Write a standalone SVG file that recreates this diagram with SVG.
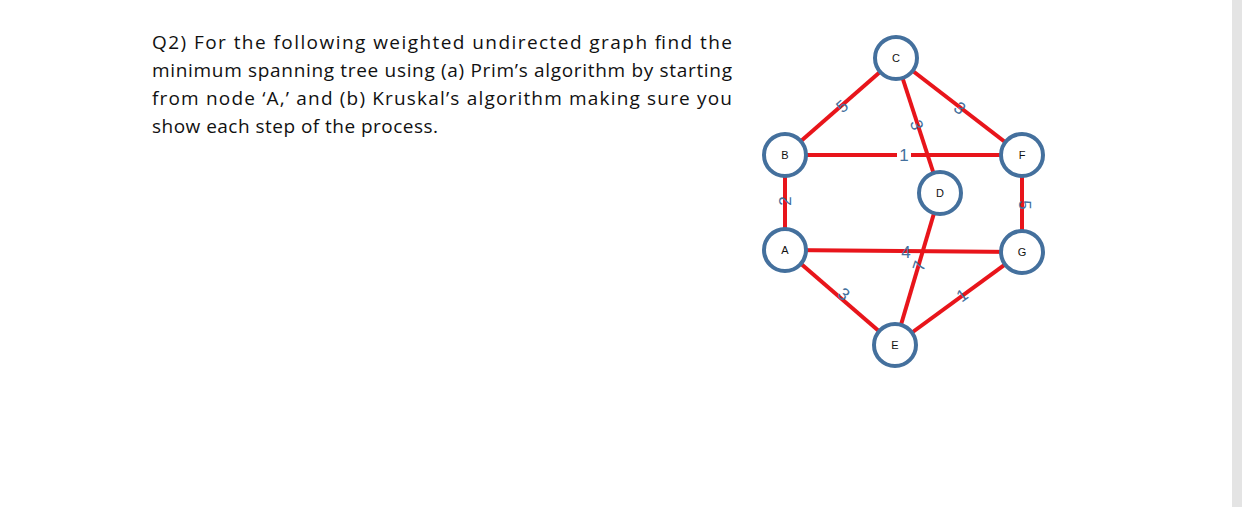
<svg xmlns="http://www.w3.org/2000/svg" width="1242" height="507" viewBox="0 0 1242 507">
<style>
.q{font-family:"Open Sans","Liberation Sans",sans-serif;font-size:19px;fill:#111}
.e line{stroke:#e8151b;stroke-width:4}
.n circle{fill:#fff;stroke:#44709d;stroke-width:4}
.n text{font-family:"Liberation Sans",sans-serif;font-size:11px;fill:#111;text-anchor:middle}
.w{font-family:"Liberation Sans",sans-serif;font-size:17px;fill:#44709d;text-anchor:middle}
</style>
<rect width="1242" height="507" fill="#fff"/>
<rect x="1232" y="0" width="10" height="507" fill="#e4e4e4"/>
<g id="question">
<text class="q" x="152" y="49" textLength="580" lengthAdjust="spacing">Q2) For the following weighted undirected graph find the</text>
<text class="q" x="152" y="77" textLength="580" lengthAdjust="spacing">minimum spanning tree using (a) Prim’s algorithm by starting</text>
<text class="q" x="152" y="105" textLength="580" lengthAdjust="spacing">from node ‘A,’ and (b) Kruskal’s algorithm making sure you</text>
<text class="q" x="152" y="133" textLength="286" lengthAdjust="spacing">show each step of the process.</text>
</g>
<g id="connectors" class="e">
<line x1="896" y1="58" x2="785" y2="155"/>
<line x1="896" y1="58" x2="1022" y2="155"/>
<line x1="896" y1="58" x2="940" y2="193"/>
<line x1="785" y1="155" x2="1022" y2="155"/>
<line x1="785" y1="155" x2="785" y2="250"/>
<line x1="1022" y1="155" x2="1022" y2="252"/>
<line x1="785" y1="250" x2="1022" y2="252"/>
<line x1="940" y1="193" x2="895" y2="345"/>
<line x1="785" y1="250" x2="895" y2="345"/>
<line x1="1022" y1="252" x2="895" y2="345"/>
</g>
<g id="weights">
<rect x="897" y="147" width="14" height="16" fill="#fff"/>
<text class="w" x="904" y="161">1</text>
<text class="w" transform="translate(842,106) rotate(-42)" y="6">5</text>
<text class="w" transform="translate(960,108) rotate(38)" y="6">3</text>
<text class="w" transform="translate(917,125) rotate(72)" y="6">3</text>
<text class="w" transform="translate(785,201) rotate(-90)" y="6">2</text>
<text class="w" transform="translate(1025,205) rotate(90)" y="6">5</text>
<text class="w" x="906" y="258">4</text>
<text class="w" transform="translate(919,266) rotate(-72)" y="6">7</text>
<text class="w" transform="translate(844,294) rotate(40)" y="6">3</text>
<text class="w" transform="translate(962,295) rotate(-36)" y="6">1</text>
</g>
<g id="node-C" class="n"><circle cx="896" cy="58" r="21"/><text x="896" y="62">C</text></g>
<g id="node-B" class="n"><circle cx="785" cy="155" r="21"/><text x="785" y="159">B</text></g>
<g id="node-F" class="n"><circle cx="1022" cy="155" r="21"/><text x="1022" y="159">F</text></g>
<g id="node-D" class="n"><circle cx="940" cy="193" r="21"/><text x="940" y="197">D</text></g>
<g id="node-A" class="n"><circle cx="785" cy="250" r="21"/><text x="785" y="254">A</text></g>
<g id="node-G" class="n"><circle cx="1022" cy="252" r="21"/><text x="1022" y="256">G</text></g>
<g id="node-E" class="n"><circle cx="895" cy="345" r="21"/><text x="895" y="349">E</text></g>
</svg>
